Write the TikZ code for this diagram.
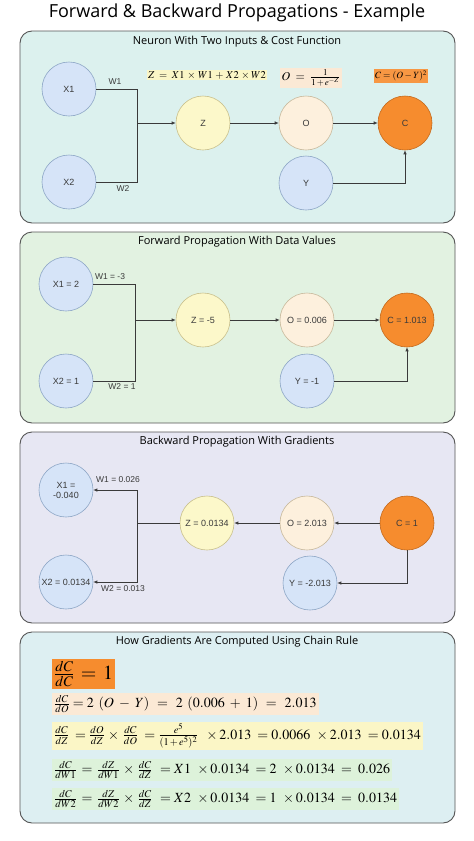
\documentclass[tikz,border=0pt]{standalone}
\usepackage{amsmath}
\usepackage{mathptmx}
\usepackage[no-math]{fontspec}
\setmainfont{Liberation Sans}
\newfontfamily\headfont{Open Sans}
\usetikzlibrary{arrows.meta,positioning,calc}
\definecolor{tinta}{HTML}{3A3A3A}
\definecolor{borda}{HTML}{555555}
\definecolor{fundoA}{HTML}{DCF1EE}
\definecolor{fundoB}{HTML}{E2F2E1}
\definecolor{fundoC}{HTML}{E7E7F3}
\definecolor{fundoD}{HTML}{DDEFF2}
\definecolor{azul}{HTML}{D6E4F8}
\definecolor{azulborda}{HTML}{8EA7C6}
\definecolor{amarelo}{HTML}{FCF8CA}
\definecolor{amareloborda}{HTML}{C9C08C}
\definecolor{creme}{HTML}{FDF0DD}
\definecolor{cremeborda}{HTML}{C8B99C}
\definecolor{laranja}{HTML}{F68C2E}
\definecolor{laranjaborda}{HTML}{C56A1C}
\definecolor{laranjaclaro}{HTML}{FBE9D5}
\definecolor{amareloclaro}{HTML}{FBF6C6}
\definecolor{verdeclaro}{HTML}{DDF2DA}

\begin{document}
\begin{tikzpicture}[x=1pt,y=-1pt,
  painel/.style={draw=borda,line width=0.9pt,rounded corners=12pt},
  titulo/.style={font=\headfont\fontsize{11}{13}\selectfont,text=black},
  neuron/.style={circle,draw,line width=0.6pt,minimum size=54pt,inner sep=0pt,
                 align=center,text=tinta,font=\fontsize{9}{10}\selectfont},
  entrada/.style={neuron,fill=azul,draw=azulborda},
  soma/.style={neuron,fill=amarelo,draw=amareloborda},
  saida/.style={neuron,fill=creme,draw=cremeborda},
  custo/.style={neuron,fill=laranja,draw=laranjaborda},
  peso/.style={font=\fontsize{8.5}{10}\selectfont,text=tinta},
  linha/.style={draw=tinta,line width=0.7pt},
  arr/.style={linha,-{Latex[length=4pt,width=3.5pt]}},
  formula/.style={inner sep=1.5pt,font=\fontsize{10.5}{12}\selectfont,text=black},
  eq/.style={anchor=west,inner sep=2pt,font=\fontsize{14}{16}\selectfont,text=black}
]
  \useasboundingbox (0,0) rectangle (474,841);
  \fill[white] (0,0) rectangle (474,841);
  \node[font=\headfont\fontsize{18}{21}\selectfont] (head) at (237,13) {Forward \& Backward Propagations - Example};

  % panel 1: the neuron
  \draw[painel,fill=fundoA] (20,31) rectangle (455,223);
  \node[titulo] (t1) at (237,42) {Neuron With Two Inputs \& Cost Function};
  \node[entrada] (x1) at (69,89) {X1};
  \node[entrada] (x2) at (69,182) {X2};
  \node[soma] (z) at (203,123) {Z};
  \node[saida] (o) at (306,123) {O};
  \node[custo] (c) at (405,123) {C};
  \node[entrada] (y) at (306,183) {Y};
  \coordinate (j1) at (137,123);
  \draw[linha] (x1.east) -| (j1);
  \draw[linha] (x2.east) -| (j1);
  \draw[arr] (j1) -- (z);
  \draw[arr] (z) -- (o);
  \draw[arr] (o) -- (c);
  \draw[arr] (y.east) -| (c.south);
  \node[peso] (w1) at (115,82) {W1};
  \node[peso] (w2) at (123,189) {W2};
  \node[formula,fill=amareloclaro] (fz) at (207,75) {$Z \;=\; X1 \,\times\, W1 \,+\, X2 \,\times W2$};
  \node[formula,fill=laranjaclaro,font=\fontsize{12}{14}\selectfont] (fo) at (311,78) {$O \;=\; \frac{1}{1\,+\,e^{-Z}}$};
  \node[formula,fill=laranja!90!white,font=\fontsize{9.5}{11}\selectfont] (fc) at (401,76) {$C = (O - Y)^2$};

  % panel 2: forward pass
  \draw[painel,fill=fundoB] (20,232) rectangle (455,423);
  \node[titulo] (t2) at (237,242) {Forward Propagation With Data Values};
  \node[entrada] (fx1) at (66,284) {X1 = 2};
  \node[entrada] (fx2) at (66,381) {X2 = 1};
  \node[soma] (fz) at (203,320) {Z = -5};
  \node[saida] (fo) at (307,320) {O = 0.006};
  \node[custo] (fc) at (407,320) {C = 1.013};
  \node[entrada] (fy) at (307,381) {Y = -1};
  \coordinate (j2) at (135,320);
  \draw[linha] (fx1.east) -| (j2);
  \draw[linha] (fx2.east) -| (j2);
  \draw[arr] (j2) -- (fz);
  \draw[arr] (fz) -- (fo);
  \draw[arr] (fo) -- (fc);
  \draw[arr] (fy.east) -| (fc.south);
  \node[peso] (fw1) at (110,277) {W1 = -3};
  \node[peso] (fw2) at (122,387) {W2 = 1};

  % panel 3: backward pass
  \draw[painel,fill=fundoC] (20,432) rectangle (455,623);
  \node[titulo] (t3) at (237,442) {Backward Propagation With Gradients};
  \node[entrada] (bx1) at (66,490) {X1 =\\-0.040};
  \node[entrada] (bx2) at (66,582) {X2 = 0.0134};
  \node[soma] (bz) at (207,523) {Z = 0.0134};
  \node[saida] (bo) at (307,523) {O = 2.013};
  \node[custo] (bc) at (407,523) {C = 1};
  \node[entrada] (by) at (310,583) {Y = -2.013};
  \coordinate (j3) at (137,523);
  \draw[arr] (bc) -- (bo);
  \draw[arr] (bo) -- (bz);
  \draw[linha] (bz.west) -- (j3);
  \draw[arr] (j3) |- (bx1.east);
  \draw[arr] (j3) |- (bx2.east);
  \draw[arr] (bc.south) |- (by.east);
  \node[peso] (bw1) at (118,480) {W1 = 0.026};
  \node[peso] (bw2) at (123,589) {W2 = 0.013};

  % panel 4: chain rule
  \draw[painel,fill=fundoD] (20,632) rectangle (455,823);
  \node[titulo] (t4) at (237,642) {How Gradients Are Computed Using Chain Rule};
  \node[eq,fill=laranja,font=\fontsize{20}{22}\selectfont,inner sep=2pt] (e1) at (52,674)
    {$\frac{dC}{dC} \,=\, 1$};
  \node[eq,fill=laranjaclaro] (e2) at (52,704)
    {$\frac{dC}{dO} = 2\;\,(O\;-\;Y) \;\,=\;\, 2\;\,(0.006\;+\;1) \;\,=\;\, 2.013$};
  \node[eq,fill=amareloclaro] (e3) at (52,736)
    {$\frac{dC}{dZ} \;= \frac{dO}{dZ} \,\times\, \frac{dC}{dO} \;= \frac{e^5}{(1\,+\,e^5)^2}\;\; \times 2.013 \;= 0.0066\;\, \times 2.013 \;= 0.0134$};
  \node[eq,fill=verdeclaro] (e4) at (52,770)
    {$\frac{dC}{dW1} \,=\, \frac{dZ}{dW1} \,\times\, \frac{dC}{dZ} \;\,= X1\;\, \times 0.0134 \;= 2\;\, \times 0.0134 \;=\; 0.026$};
  \node[eq,fill=verdeclaro] (e5) at (52,799)
    {$\frac{dC}{dW2} \,=\, \frac{dZ}{dW2} \,\times\, \frac{dC}{dZ} \;\,= X2\;\, \times 0.0134 \;= 1\;\, \times 0.0134 \;=\; 0.0134$};
\end{tikzpicture}
\end{document}
